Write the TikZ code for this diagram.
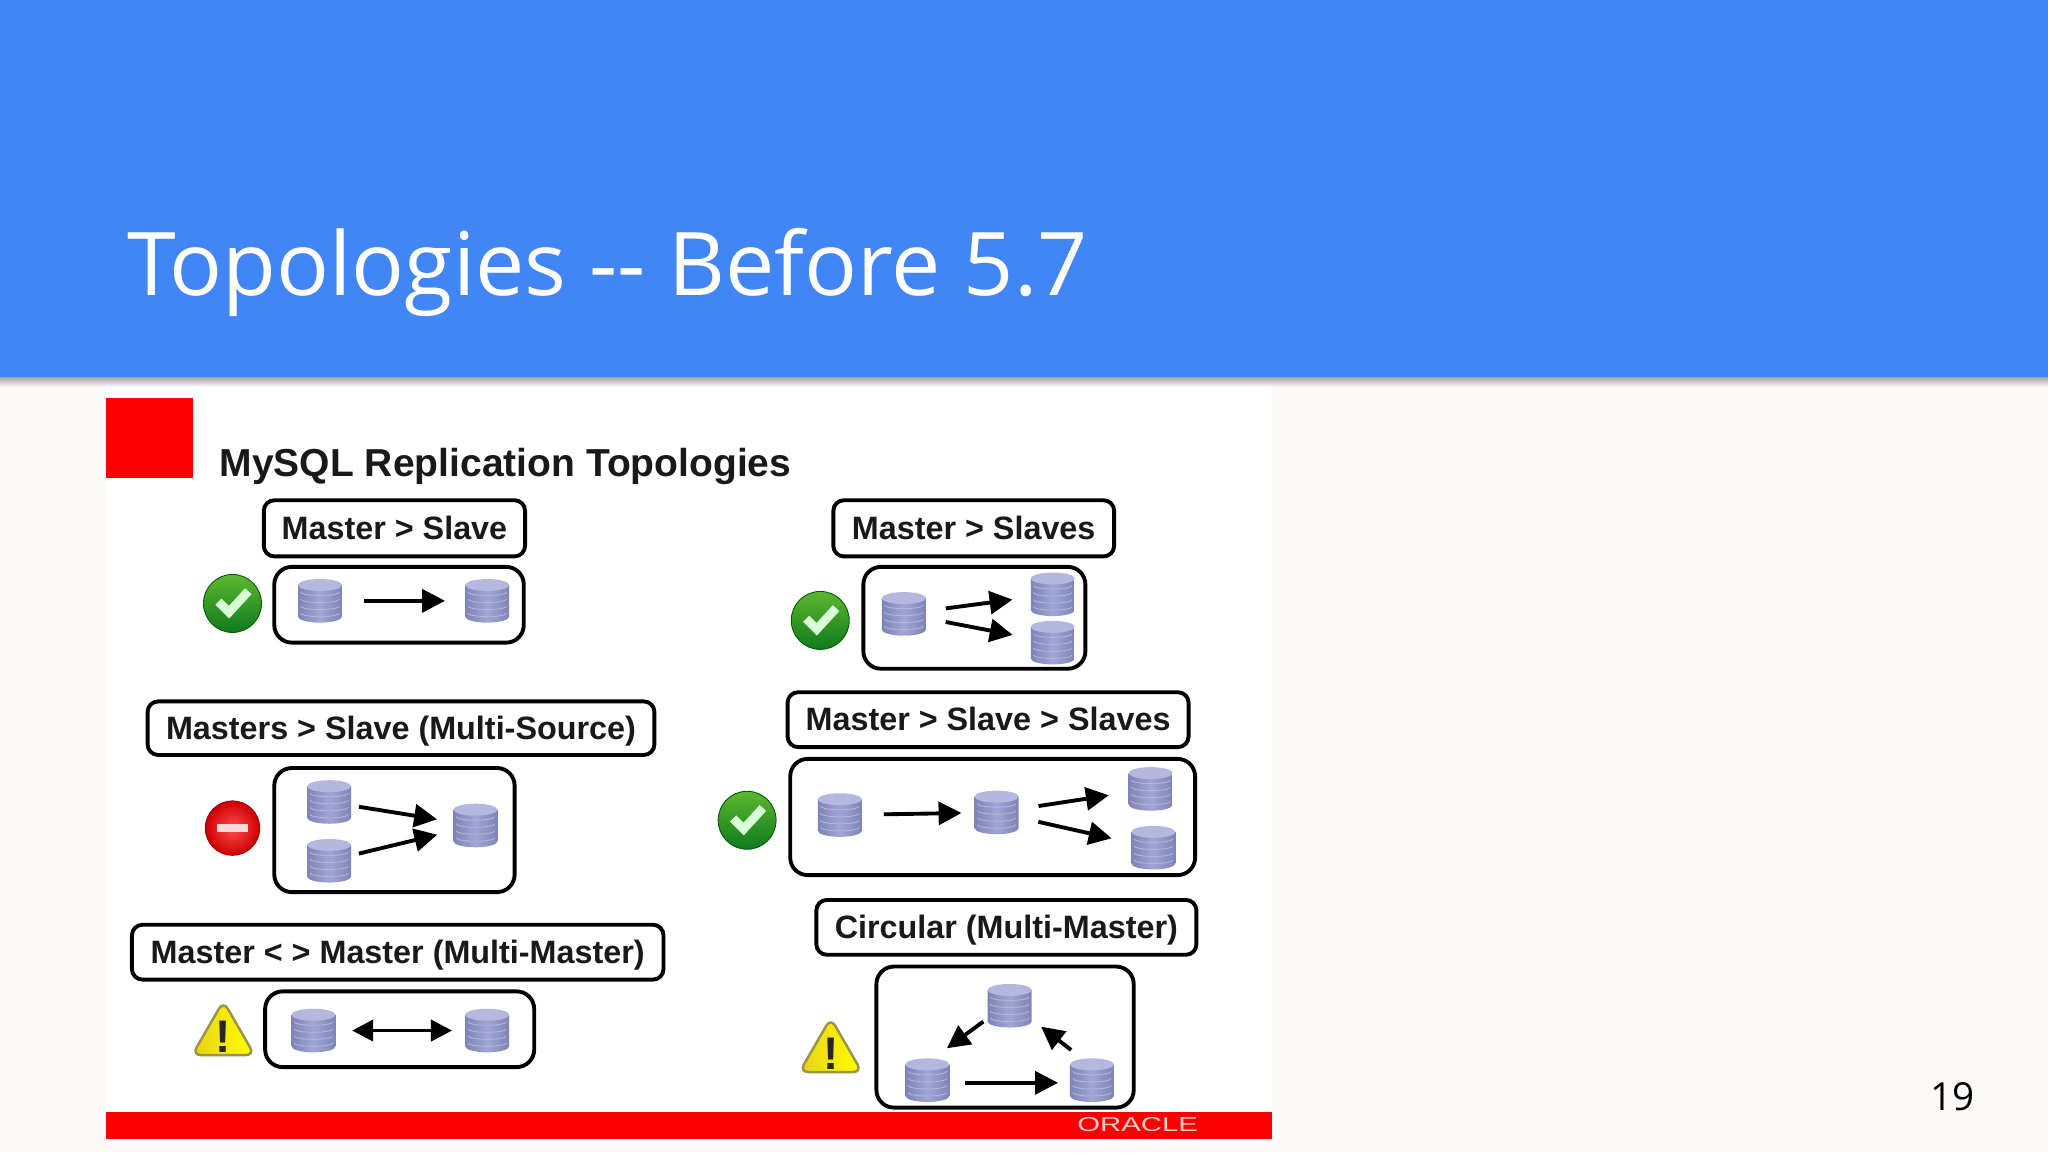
\documentclass[tikz,border=0pt]{standalone}
\usepackage{fontspec}
\usepackage{graphicx}
\setmainfont{Liberation Sans}
\newfontfamily\slidefont{Open Sans}
\usetikzlibrary{shapes.geometric,arrows.meta}
\definecolor{slidebar}{HTML}{4285F4}
\definecolor{slidebg}{HTML}{FBFAF9}
\definecolor{dbblue}{HTML}{A0A5D6}
\definecolor{dbdark}{HTML}{7F84B8}
\definecolor{dbtop}{HTML}{B4B8DE}
\definecolor{oraclered}{HTML}{FA0000}
\definecolor{okhi}{HTML}{5CB82E}
\definecolor{oklo}{HTML}{0F7A1E}
\tikzset{
  lblbox/.style={draw=black,line width=2.2pt,rounded corners=6pt,fill=white},
  topobox/.style={draw=black,line width=2.2pt,rounded corners=10pt,fill=white},
  lbltext/.style={font=\fontsize{18.4}{20}\selectfont\bfseries,text=black!90,text height=14.2pt,text depth=1.8pt,inner sep=0pt},
  dbnode/.style={rectangle,minimum width=26pt,minimum height=25pt,inner sep=0pt,outer sep=0pt,
    path picture={
      \begin{scope}[shift={(path picture bounding box.center)},x=1pt,y=1pt]
        \path[left color=dbdark,right color=dbdark,middle color=dbblue] (-12.5,9) -- (-12.5,-9) arc[x radius=12.5,y radius=3.4,start angle=180,end angle=360] -- (12.5,9) -- cycle;
        \foreach \dby in {-7,-3,1,5}
          \draw[dbdark!60,line width=0.5pt] (-11,\dby) arc[x radius=11,y radius=2,start angle=180,end angle=360];
        \fill[dbtop] (0,9) ellipse[x radius=12.5,y radius=3.4];
      \end{scope}
    }},
  flow/.style={draw=black,line width=2.2pt,-{Triangle[length=13pt,width=13pt]}},
  flowboth/.style={draw=black,line width=2.2pt,{Triangle[length=12pt,width=12pt]}-{Triangle[length=12pt,width=12pt]}},
  okicon/.style={circle,minimum size=33pt,inner sep=0pt,draw=green!35!black,line width=0.5pt,
    top color=okhi,bottom color=oklo,
    path picture={
      \draw[white!85!green,line width=5pt] ([shift={(-8pt,1pt)}]path picture bounding box.center)
        -- ([shift={(-2pt,-5pt)}]path picture bounding box.center)
        -- ([shift={(9pt,7pt)}]path picture bounding box.center);
    }},
  stopicon/.style={circle,minimum size=31pt,inner sep=0pt,draw=red!60!black,line width=0.5pt,
    inner color=red!70!white,outer color=red!80!black,
    path picture={
      \fill[white!85!red] ([shift={(-9pt,-2.5pt)}]path picture bounding box.center) rectangle ([shift={(9pt,2.5pt)}]path picture bounding box.center);
    }},
  warnicon/.style={regular polygon,regular polygon sides=3,minimum size=41pt,inner sep=0pt,
    rounded corners=5pt,draw=black!45!yellow,line width=1.4pt,left color=yellow!65!brown,right color=yellow,
    label={[font=\fontsize{26}{26}\selectfont\bfseries,text=black!85,inner sep=0pt]center:!}},
}
\begin{document}
\begin{tikzpicture}[x=0.026122cm,y=-0.026122cm]
\useasboundingbox (0,0) rectangle (1568,882);
\fill[slidebg] (0,0) rectangle (1568,882);
\shade[top color=black!35,bottom color=slidebg] (0,289) rectangle (1568,296);
\fill[slidebar] (0,0) rectangle (1568,289);
\node (title) [anchor=base west,inner sep=0pt,text=white,font=\slidefont\fontsize{50}{60}\selectfont] at (97,226) {Topologies -- Before 5.7};
\node (pageno) [text=black,font=\slidefont\fontsize{22}{24}\selectfont,inner sep=0pt] at (1495,840) {19};

% the pasted slide
\fill[white] (81,296) rectangle (974,872);
\fill[oraclered] (81,305) rectangle (148,366);
\fill[oraclered] (81,851) rectangle (974,872);
\node (ora) [text=white!80!red,font=\fontsize{11.5}{12}\selectfont,inner sep=0pt] at (871,861) {\scalebox{1.45}[1]{ORACLE}};
\node (heading) [anchor=base west,inner sep=0pt,text=black!90,font=\fontsize{22.2}{24}\bfseries\selectfont] at (168,365) {MySQL Replication Topologies};

% master > slave
\draw[lblbox] (202,383) rectangle node[lbltext] (msl) {Master > Slave} (402,426);
\draw[topobox] (210,434) rectangle (401,492);
\node (mslok) [okicon] at (178,462) {};
\node (msla) [dbnode] at (245,460) {};
\node (mslb) [dbnode] at (373,460) {};
\draw[flow,shorten <=12pt,shorten >=11pt] (msla) -- (mslb);

% masters > slave
\draw[lblbox] (113,537) rectangle node[lbltext] (msrc) {Masters > Slave (Multi-Source)} (501,578);
\draw[topobox] (210,588) rectangle (394,683);
\node (msrcno) [stopicon] at (178,634) {};
\node (msrca) [dbnode] at (252,614) {};
\node (msrcb) [dbnode] at (252,659) {};
\node (msrcc) [dbnode] at (364,632) {};
\draw[flow,shorten <=4pt,shorten >=9pt] (msrca) -- (msrcc);
\draw[flow,shorten <=4pt,shorten >=9pt] (msrcb) -- (msrcc);

% master <> master
\draw[lblbox] (101,708) rectangle node[lbltext] (mm) {Master < > Master (Multi-Master)} (508,750);
\draw[topobox] (203,759) rectangle (409,817);
\node (mmwarn) [warnicon] at (171,794) {};
\node (mma) [dbnode] at (240,789) {};
\node (mmb) [dbnode] at (373,789) {};
\draw[flowboth,shorten <=9pt,shorten >=7pt] (mma) -- (mmb);

% master > slaves
\draw[lblbox] (638,383) rectangle node[lbltext] (mss) {Master > Slaves} (853,426);
\draw[topobox] (661,434) rectangle (831,512);
\node (mssok) [okicon] at (628,475) {};
\node (mssa) [dbnode] at (692,470) {};
\node (mssb) [dbnode] at (806,455) {};
\node (mssc) [dbnode] at (806,492) {};
\draw[flow,shorten <=11pt,shorten >=10pt] (mssa) -- (mssb);
\draw[flow,shorten <=11pt,shorten >=10pt] (mssa) -- (mssc);

% master > slave > slaves
\draw[lblbox] (603,530) rectangle node[lbltext] (chain) {Master > Slave > Slaves} (910,572);
\draw[topobox] (605,581) rectangle (915,670);
\node (chainok) [okicon] at (572,628) {};
\node (chaina) [dbnode] at (643,624) {};
\node (chainb) [dbnode] at (763,622) {};
\node (chainc) [dbnode] at (881,604) {};
\node (chaind) [dbnode] at (883,649) {};
\draw[flow,shorten <=12pt,shorten >=7pt] (chaina) -- (chainb);
\draw[flow,shorten <=11pt,shorten >=11pt] (chainb) -- (chainc);
\draw[flow,shorten <=11pt,shorten >=11pt] (chainb) -- (chaind);

% circular
\draw[lblbox] (625,689) rectangle node[lbltext] (circ) {Circular (Multi-Master)} (916,731);
\draw[topobox] (671,740) rectangle (868,848);
\node (circwarn) [warnicon] at (636,807) {};
\node (circa) [dbnode] at (773,770) {};
\node (circb) [dbnode] at (710,827) {};
\node (circc) [dbnode] at (836,827) {};
\draw[flow,shorten <=18.6pt,shorten >=13.8pt] ([yshift=2pt]circa.center) -- ([yshift=10pt]circb.center);
\draw[flow,shorten <=21.5pt,shorten >=19.3pt] ([yshift=-1.5pt]circb.center) -- ([yshift=-1.5pt]circc.center);
\draw[flow,shorten <=15pt,shorten >=22.7pt] ([yshift=8pt]circc.center) -- ([yshift=2pt]circa.center);
\end{tikzpicture}
\end{document}
